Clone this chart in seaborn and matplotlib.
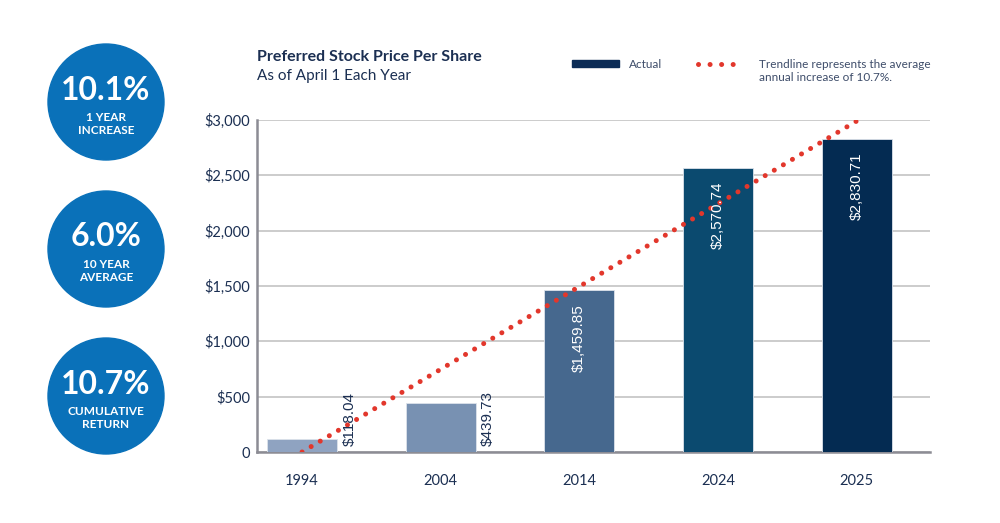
import numpy as np
import pandas as pd
import seaborn as sns
import matplotlib.pyplot as plt
from matplotlib.patches import Circle, Rectangle

# data
anos = ['1994', '2004', '2014', '2024', '2025']
precos = [118.04, 439.73, 1459.85, 2570.74, 2830.71]
rotulos = ['$118.04', '$439.73', '$1,459.85', '$2,570.74', '$2,830.71']
cores_barras = ['#8FA3C1', '#7891B2', '#46688E', '#0B4A6F', '#042B52']

tendencia_anos = ['1994', '2025']
tendencia_valores = [0, 2990]

yticks = [0, 500, 1000, 1500, 2000, 2500, 3000]
ytick_labels = ['0', '$500', '$1,000', '$1,500', '$2,000', '$2,500', '$3,000']

destaques = ['10.1%', '6.0%', '10.7%']
destaques_txt = ['1 YEAR\nINCREASE', '10 YEAR\nAVERAGE', 'CUMULATIVE\nRETURN']

AZUL = '#0A71B9'
NAVY = '#1B2F52'
VERMELHO = '#E2372C'

sns.set_style('white')
plt.rcParams['font.family'] = ['Lato', 'DejaVu Sans']

df = pd.DataFrame({'ano': anos, 'preco': precos})

fig = plt.figure(figsize=(10, 5.23), dpi=100)
ax = fig.add_axes([257 / 1000, (523 - 452) / 523, 673 / 1000, 332 / 523])

sns.barplot(data=df, x='ano', y='preco', hue='ano', palette=cores_barras,
            legend=False, width=0.505, saturation=1, edgecolor='#DCE2EA',
            linewidth=0.6, ax=ax, zorder=3)

# linha de tendencia pontilhada
ax.plot(tendencia_anos, tendencia_valores, color=VERMELHO, linewidth=3.6,
        linestyle=(0, (0.01, 2.105)), dash_capstyle='round', zorder=4)

# rotulos das barras
for i, (v, txt) in enumerate(zip(precos, rotulos)):
    if v < 1000:
        ax.annotate(txt, xy=(i + 0.2525, 0), xytext=(9, 4),
                    textcoords='offset points', rotation=90, ha='center',
                    va='bottom', fontsize=11, color=NAVY,
                    family='Liberation Sans', zorder=5)
    else:
        ax.annotate(txt, xy=(i, v), xytext=(0, -10),
                    textcoords='offset points', rotation=90, ha='center',
                    va='top', fontsize=11, color='white',
                    family='Liberation Sans', zorder=5)

ax.set_xlim(-0.325, 4.53)
ax.set_ylim(0, 3000)
ax.set_yticks(yticks)
ax.set_yticklabels(ytick_labels)
ax.yaxis.grid(True, color='#C8C8C8', linewidth=1.3, zorder=0)
ax.set_axisbelow(True)
ax.set_xlabel('')
ax.set_ylabel('')
ax.tick_params(axis='x', length=0, pad=16, labelsize=10.5, labelcolor=NAVY)
ax.tick_params(axis='y', length=0, pad=5, labelsize=10.5, labelcolor=NAVY)
for s in ['top', 'right']:
    ax.spines[s].set_visible(False)
for s in ['left', 'bottom']:
    ax.spines[s].set_color('#8C8C94')
    ax.spines[s].set_linewidth(1.8)

# camada de sobreposicao em pixels
ov = fig.add_axes([0, 0, 1, 1])
ov.set_xlim(0, 1000)
ov.set_ylim(523, 0)
ov.axis('off')
ov.patch.set_alpha(0)

centros_y = [102, 249, 396]
for cy, big, small in zip(centros_y, destaques, destaques_txt):
    ov.add_patch(Circle((106, cy), 58, color=AZUL, zorder=1))
    ov.text(106, cy - 12, big, ha='center', va='center', color='white',
            fontsize=23, fontweight='bold', zorder=2)
    ov.text(106, cy + 22, small, ha='center', va='center', color='white',
            fontsize=8.5, fontweight='bold', linespacing=1.15, zorder=2)

ov.text(257, 57, 'Preferred Stock Price Per Share', ha='left', va='center',
        fontsize=11.5, fontweight='bold', color=NAVY)
ov.text(257, 76, 'As of April 1 Each Year', ha='left', va='center',
        fontsize=11, color=NAVY)

ov.add_patch(Rectangle((572, 60), 47, 7, color='#0C2C56'))
ov.text(629, 64, 'Actual', ha='left', va='center', fontsize=8.5,
        color='#3E4D6A')
ov.plot([698, 744], [64, 64], color=VERMELHO, linewidth=3.6,
        linestyle=(0, (0.01, 2.3)), dash_capstyle='round')
ov.text(759, 71, 'Trendline represents the average\nannual increase of 10.7%.',
        ha='left', va='center', fontsize=8.5, color='#3E4D6A',
        linespacing=1.25)

fig.savefig('out.png', dpi=100)
plt.close('all')
